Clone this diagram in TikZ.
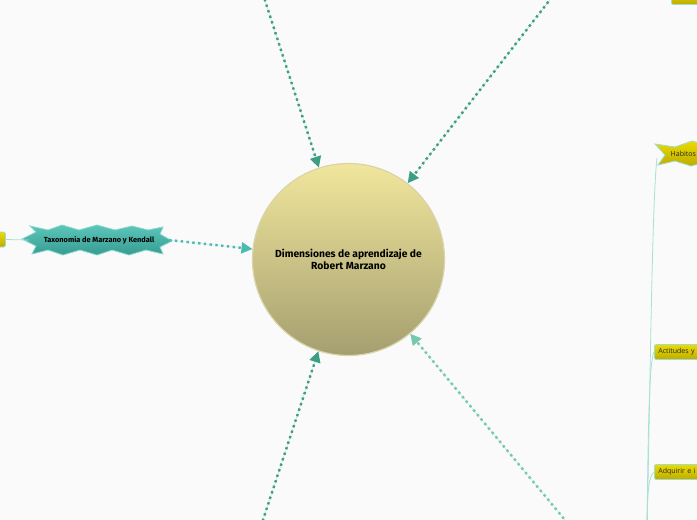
\documentclass[tikz,border=0pt]{standalone}
\usepackage{fontspec}
\setmainfont{Open Sans}
\newfontfamily\titlefont{Fira Sans}
\usetikzlibrary{arrows.meta}
\definecolor{bg}{HTML}{FAFAFA}
\definecolor{ctop}{HTML}{F0E69C}
\definecolor{cbot}{HTML}{A59F70}
\definecolor{cbord}{HTML}{DAD3AC}
\definecolor{arrdark}{HTML}{3D9E86}
\definecolor{arrlight}{HTML}{72C9AB}
\definecolor{arrteal}{HTML}{4BBAB0}
\definecolor{ttop}{HTML}{5CC6BA}
\definecolor{tbot}{HTML}{379C92}
\definecolor{tbord}{HTML}{86D8CE}
\definecolor{ytop}{HTML}{EADB00}
\definecolor{ybot}{HTML}{BDAC00}
\definecolor{ybord}{HTML}{9FDCCD}
\definecolor{branch}{HTML}{A8E0D4}
\begin{document}
\begin{tikzpicture}[x=1pt,y=-1pt,
  arr/.style={line width=2.4pt, dash pattern=on 2.4pt off 3.4pt, -{Triangle[length=11pt,width=11pt]}},
  ybox/.style={rectangle, rounded corners=1.5pt, draw=ybord, line width=0.8pt,
    top color=ytop, bottom color=ybot, font=\fontsize{7}{8}\selectfont,
    inner xsep=4pt, inner ysep=0pt, minimum height=15pt, anchor=west, text=black!85,
    text width=60pt, align=left},
  branchline/.style={draw=branch, line width=0.8pt}
]
\useasboundingbox (0,0) rectangle (697,520);
\fill[bg] (0,0) rectangle (697,520);
\begin{scope}
\clip (0,0) rectangle (697,520);

% free ends of connectors
\coordinate (n1) at (261,-12);
\coordinate (n2) at (559,-12);
\coordinate (n3) at (259,532);
\coordinate (n4) at (575,532);
\coordinate (root) at (647,530);

% central node
\node[circle, minimum size=192pt, inner sep=0pt, draw=cbord, line width=1.2pt,
  top color=ctop, bottom color=cbot, align=center,
  font=\titlefont\bfseries\fontsize{10.3}{12}\selectfont] (c) at (348.5,259.5)
  {Dimensiones de aprendizaje de\\Robert Marzano};

% taxonomy jagged shape
\shade[top color=ttop, bottom color=tbot, draw=tbord, line width=0.8pt, line join=miter]
  (22,239) -- (36,232) -- (30,226) -- (48,230) -- (62,225) -- (79,230) -- (97,225)
  -- (115,230) -- (132,226) -- (148,230) -- (163,227) -- (160,234) -- (172,241)
  -- (160,247) -- (163,254) -- (146,250) -- (129,255) -- (112,250) -- (97,255)
  -- (80,250) -- (63,255) -- (48,250) -- (32,254) -- (36,246) -- cycle;
\node[font=\titlefont\bfseries\fontsize{7.4}{9}\selectfont, minimum width=140pt,
  inner sep=0pt] (tax) at (99,240) {Taxonomia de Marzano y Kendall};

% left yellow node
\node[ybox, text width=16pt] (ly) at (-19,239.5) {};
\draw[branchline] (ly.east) -- (tax.west);

% top-right yellow node
\node[ybox, text width=32pt] (tr) at (671,-3) {};

% Habitos jagged shape
\shade[top color=ytop, bottom color=ybot, draw=ybord, line width=0.8pt, line join=miter]
  (655,144) -- (675,147) -- (692,141) -- (710,146) -- (710,161) -- (691,166)
  -- (675,161) -- (658,165) -- (665,155) -- cycle;
\node[font=\fontsize{7}{8}\selectfont, anchor=west, inner sep=0pt, text=black!85] (hab) at (670.5,154) {Habitos};
\coordinate (habw) at (657,158);

% other yellow boxes
\node[ybox] (act) at (654,352) {Actitudes y};
\node[ybox] (adq) at (654,472) {Adquirir e i};

% right tree branches
\draw[branchline] (root) .. controls (650,400) and (652,200) .. (habw);
\draw[branchline] (root) .. controls (648,440) and (649,360) .. (act.west);
\draw[branchline] (root) .. controls (647,500) and (648,476) .. (adq.west);

% arrows into the central node
\draw[arr, draw=arrdark, fill=arrdark] (n1) -- (c);
\draw[arr, draw=arrdark, fill=arrdark] (n2) -- (c);
\draw[arr, draw=arrteal, fill=arrteal] (tax.east) -- (c);
\draw[arr, draw=arrdark, fill=arrdark] (n3) -- (c);
\draw[arr, draw=arrlight, fill=arrlight] (n4) -- (c);
\end{scope}
\end{tikzpicture}
\end{document}
